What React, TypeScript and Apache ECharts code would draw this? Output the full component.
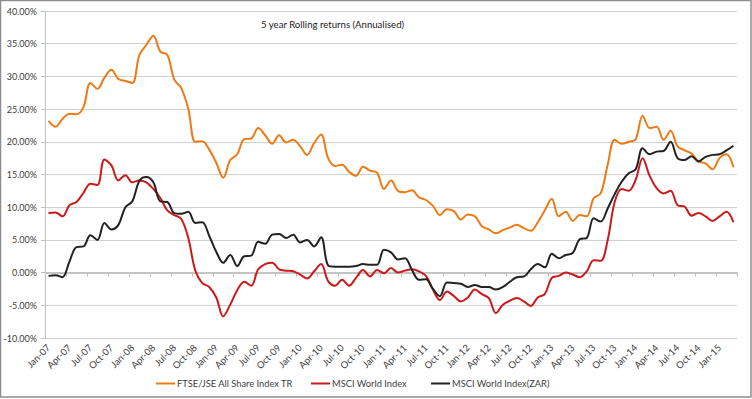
import React, { useEffect, useRef } from "react";
import * as echarts from "echarts";

const MONTH_NAMES = ["Jan", "Feb", "Mar", "Apr", "May", "Jun", "Jul", "Aug", "Sep", "Oct", "Nov", "Dec"];
const YEARS = ["07", "08", "09", "10", "11", "12", "13", "14", "15"];
const LAST_MONTHS_IN_2015 = 3;

const categories: string[] = [];
YEARS.forEach((y, yi) => {
  const n = yi === YEARS.length - 1 ? LAST_MONTHS_IN_2015 : 12;
  for (let m = 0; m < n; m++) categories.push(`${MONTH_NAMES[m]}-${y}`);
});

const ftseJse = [
  23.2, 22.3, 23.5, 24.3, 24.2, 25.3, 29.0, 28.1, 29.8, 31.0, 29.6, 29.3,
  29.0, 33.3, 34.8, 36.2, 33.8, 33.3, 29.5, 28.2, 25.0, 20.0, 20.1, 18.8,
  16.8, 14.5, 17.2, 18.1, 20.4, 20.5, 22.1, 21.0, 19.7, 21.0, 19.9, 20.3,
  19.3, 18.0, 19.8, 21.1, 17.5, 16.3, 16.5, 15.4, 14.8, 16.2, 15.6, 15.3,
  12.8, 14.1, 12.5, 12.3, 12.6, 11.5, 11.1, 10.2, 8.8, 9.7, 9.4, 8.1,
  8.9, 8.6, 7.1, 6.6, 6.0, 6.5, 6.9, 7.3, 6.8, 6.4, 7.7, 9.5,
  11.3, 8.6, 9.3, 7.9, 8.8, 8.6, 11.4, 12.1, 16.5, 20.3, 19.7, 20.0,
  20.4, 24.0, 22.1, 22.3, 20.3, 21.7, 19.3, 18.7, 18.2, 17.0, 16.7, 15.8,
  17.5, 18.1, 16.1,
];

const msciWorld = [
  9.1, 9.2, 8.6, 10.3, 10.8, 12.2, 13.6, 13.4, 17.3, 16.4, 14.1, 14.9,
  13.8, 14.1, 13.8, 12.8, 11.4, 9.5, 8.8, 8.2, 5.3, 0.3, -1.6, -2.2,
  -3.8, -6.7, -4.9, -2.7, -1.4, -2.0, 0.5, 1.3, 1.5, 0.5, 0.3, 0.2,
  -0.3, -0.9, 0.2, 1.3, -1.3, -2.0, -1.1, -2.0, -0.8, 0.4, -0.6, 0.4,
  -0.1, 0.7, 0.0, 0.3, 0.5, 0.2, -0.5, -2.6, -4.2, -2.9, -3.6, -4.4,
  -3.8, -2.6, -3.3, -3.9, -6.2, -4.9, -4.3, -3.9, -4.4, -5.1, -3.8, -3.3,
  -0.8, -0.5, 0.0, -0.3, -0.7, 0.2, 1.9, 1.8, 5.0, 10.8, 12.8, 12.5,
  14.2, 17.5, 14.8, 12.9, 12.1, 12.5, 10.3, 10.1, 8.7, 9.1, 8.6, 7.9,
  8.6, 9.3, 7.7,
];

const msciWorldZar = [
  -0.5, -0.4, -0.7, 1.7, 3.9, 4.0, 5.7, 5.0, 7.6, 6.6, 7.3, 10.0,
  10.9, 14.0, 14.6, 13.8, 10.9, 10.8, 9.1, 9.0, 9.3, 7.6, 7.7, 5.6,
  3.2, 1.5, 2.7, 1.0, 2.5, 2.6, 4.7, 4.4, 5.8, 5.9, 5.3, 5.8,
  4.6, 5.0, 4.0, 5.4, 1.1, 0.9, 0.9, 0.9, 1.0, 1.3, 1.2, 1.2,
  3.5, 3.1, 2.0, 2.2, 0.4, -1.1, -1.0, -2.5, -3.6, -1.5, -1.6, -1.7,
  -2.2, -1.9, -2.2, -2.2, -2.6, -2.2, -1.4, -0.7, -0.6, 0.5, 1.3, 0.8,
  2.9, 2.2, 2.7, 3.0, 5.1, 5.3, 8.3, 7.8, 9.8, 12.0, 13.9, 15.2,
  15.8, 19.0, 18.1, 18.5, 18.6, 20.0, 17.5, 17.2, 17.8, 17.0, 17.7, 18.0,
  18.1, 18.7, 19.4,
];

const SERIES_NAMES = ["FTSE/JSE All Share Index TR", "MSCI World Index", "MSCI World Index(ZAR)"];
const TITLE = "5 year Rolling returns (Annualised)";

const FONT = "Lato, 'Liberation Sans', sans-serif";

export default function App() {
  const ref = useRef<HTMLDivElement>(null);
  useEffect(() => {
    if (!ref.current) return;
    const chart = echarts.init(ref.current, null, { renderer: "svg" });
    const mk = (name: string, data: number[], color: string, extra: any = {}) => ({
      name,
      type: "line",
      data,
      smooth: 0.35,
      showSymbol: false,
      symbol: "none",
      lineStyle: { color, width: 2 },
      itemStyle: { color },
      z: 3,
      ...extra,
    });
    const legendLefts = [156, 311, 431];
    chart.setOption({
      animation: false,
      backgroundColor: "#ffffff",
      textStyle: { fontFamily: FONT },
      grid: { left: 45, right: 15, top: 11, bottom: 61, containLabel: false },
      graphic: [
        {
          type: "rect",
          shape: { x: 0.5, y: 0.5, width: 750.5, height: 396.5 },
          style: { fill: "none", stroke: "#8e8e8e", lineWidth: 1.5 },
          silent: true,
        },
        {
          type: "text",
          left: 261,
          top: 19,
          style: { text: TITLE, fontFamily: FONT, fontSize: 9.6, fill: "#1a1a1a" },
        },
      ],
      legend: SERIES_NAMES.map((n, i) => ({
        left: legendLefts[i],
        top: 379,
        padding: 0,
        icon: "rect",
        itemWidth: 19,
        itemHeight: 2,
        textStyle: { fontFamily: FONT, fontSize: 9.3, color: "#404040", padding: [0, 0, 0, -3] },
        data: [n],
      })),
      xAxis: {
        type: "category",
        data: categories,
        boundaryGap: true,
        axisLine: { lineStyle: { color: "#bfbfbf", width: 1 } },
        axisTick: { show: true, interval: 2, length: 4, lineStyle: { color: "#bfbfbf" } },
        axisLabel: {
          interval: 2,
          rotate: 45,
          fontFamily: FONT,
          fontSize: 9.5,
          color: "#404040",
          margin: 8,
        },
        splitLine: { show: false },
      },
      yAxis: {
        type: "value",
        min: -10,
        max: 40,
        interval: 5,
        axisLine: { show: true, lineStyle: { color: "#bfbfbf", width: 1 } },
        axisTick: { show: true, length: 4, lineStyle: { color: "#bfbfbf" } },
        axisLabel: {
          formatter: (v: number) => v.toFixed(2) + "%",
          fontFamily: FONT,
          fontSize: 9,
          color: "#404040",
          margin: 8,
        },
        splitLine: { lineStyle: { color: "#d0d0d0", width: 1 } },
      },
      series: [
        mk(SERIES_NAMES[0], ftseJse, "#ee7a16", {
          markLine: {
            silent: true,
            symbol: "none",
            label: { show: false },
            lineStyle: { color: "#c4c4c4", width: 1.8, type: "solid" },
            data: [{ yAxis: 0 }],
            z: 1,
          },
        }),
        mk(SERIES_NAMES[1], msciWorld, "#cc1a1a"),
        mk(SERIES_NAMES[2], msciWorldZar, "#222222"),
      ],
    });
    return () => chart.dispose();
  }, []);
  return (
    <div
      ref={ref}
      style={{ position: "fixed", left: 0, top: 0, width: 752, height: 399, background: "#fff" }}
    />
  );
}
